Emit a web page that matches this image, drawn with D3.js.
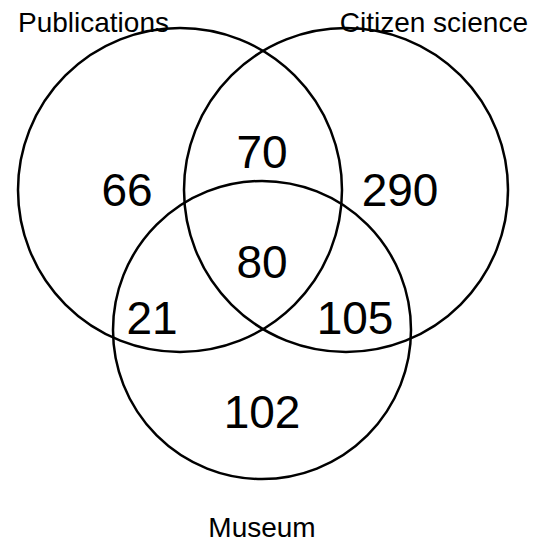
<!DOCTYPE html><html><head><script src="https://cdn.jsdelivr.net/npm/d3@7"></script>
<style>body{margin:0;background:#fff}</style></head><body><script>
const sets=["Publications","Citizen science","Museum"];
const regions=["A","AB","B","ABC","AC","BC","C"];
const counts=[66,70,290,80,21,105,102];
const W=540,H=550;
const svg=d3.select("body").append("svg").attr("width",W).attr("height",H);
const x=d3.scaleLinear().domain([0,1]).range([0,W]);
const y=d3.scaleLinear().domain([0,1]).range([0,H]);
const circ=[{cx:180/540,cy:190/550,r:162/540},{cx:346/540,cy:190/550,r:162/540},{cx:262/540,cy:330/550,r:149/540}];
svg.selectAll("circle").data(circ).join("circle")
 .attr("cx",d=>x(d.cx)).attr("cy",d=>y(d.cy)).attr("r",d=>x(d.r))
 .attr("fill","none").attr("stroke","#000").attr("stroke-width",2.5);
const lpos={A:[127,190],AB:[262,152],B:[400,190],ABC:[262,262],AC:[152,318],BC:[355,318],C:[262,412]};
svg.selectAll("text.n").data(regions).join("text").attr("class","n")
 .attr("x",r=>lpos[r][0]).attr("y",r=>lpos[r][1]).attr("dy","0.35em")
 .attr("text-anchor","middle").attr("font-family","Liberation Sans, Arial").attr("font-size",46)
 .text((r,i)=>counts[i]);
const tpos=[[18,32,"start"],[528,32,"end"],[262,537,"middle"]];
svg.selectAll("text.s").data(sets).join("text").attr("class","s")
 .attr("x",(d,i)=>tpos[i][0]).attr("y",(d,i)=>tpos[i][1]).attr("text-anchor",(d,i)=>tpos[i][2])
 .attr("font-family","Liberation Sans, Arial").attr("font-size",28).text(d=>d);
</script></body></html>
